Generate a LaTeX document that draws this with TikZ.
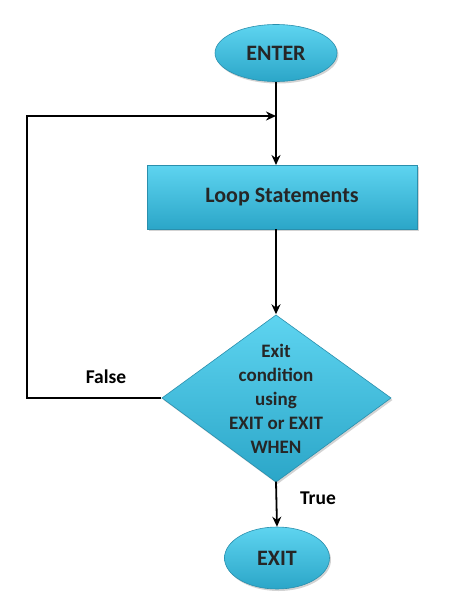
\documentclass[tikz,border=0pt]{standalone}
\usepackage{fontspec}
\setmainfont{Carlito}
\usetikzlibrary{shapes.geometric,arrows.meta,shadows}
\definecolor{fillA}{HTML}{5ED4F0}
\definecolor{fillB}{HTML}{2BA6C8}
\definecolor{edgeC}{HTML}{2A8FAD}
\tikzset{
  shapestyle/.style={draw=edgeC, line width=0.6pt, top color=fillA, bottom color=fillB,
    drop shadow={shadow xshift=1.5pt, shadow yshift=-2pt, opacity=0.35}},
  oval/.style={shapestyle, ellipse, inner sep=0pt},
  boxstyle/.style={shapestyle, rectangle, inner sep=0pt, minimum width=270pt, minimum height=64pt},
  txt/.style={font=\bfseries\fontsize{22}{26}\selectfont, text=black!85},
  lbl/.style={font=\bfseries\fontsize{19.5}{22}\selectfont},
  arr/.style={line width=1.8pt, -{Stealth[length=10pt,width=9pt]}},
  ln/.style={line width=1.8pt}
}
\begin{document}
\begin{tikzpicture}[x=1pt,y=-1pt]
\useasboundingbox (0,0) rectangle (474,600);
\node[oval, minimum width=122pt, minimum height=57pt, txt] (enter) at (276,53) {ENTER};
\node[boxstyle, txt] (loop) at (282,197) {Loop Statements};
\coordinate (loopin) at (276,165);
\coordinate (loopout) at (276,229);
\path[shapestyle] (276,315) -- (391,398) -- (276,482) -- (162,398) -- cycle;
\node[inner sep=0pt, minimum width=229pt, minimum height=167pt] (cond) at (276,398) {};
\node[text=black!85, align=center, font=\bfseries\fontsize{19}{24}\selectfont] (condtext) at (276,399)
  {Exit\\condition\\using\\EXIT or EXIT\\WHEN};
\node[oval, minimum width=105pt, minimum height=62pt, txt] (exit) at (277,558) {EXIT};
\coordinate (join) at (276,116);
\coordinate (c1) at (27,398);
\coordinate (c2) at (27,116);
\draw[arr] (enter.south) -- (loopin);
\draw[arr] (loopout) -- (cond.north);
\draw[arr] (cond.west) -- (c1) -- (c2) -- (join);
\draw[arr] (cond.south) -- (exit.north);
\node[lbl] (false) at (106,377) {False};
\node[lbl] (true) at (318,498) {True};
\end{tikzpicture}
\end{document}
